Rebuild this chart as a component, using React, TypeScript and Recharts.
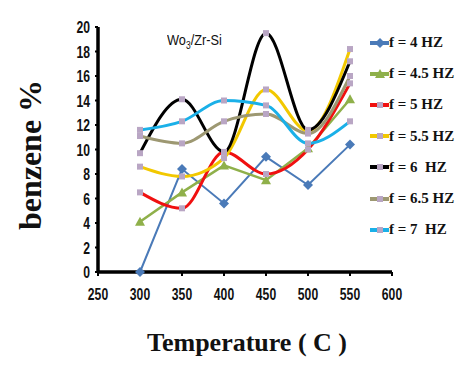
import React from "react";
import { LineChart, Line, XAxis, YAxis } from "recharts";

// temperature in C
const temperatures = [300, 350, 400, 450, 500, 550];

// benzene % per frequency
const f4 = [0, 8.4, 5.6, 9.4, 7.1, 10.4];
const f45 = [4.1, 6.5, 8.7, 7.5, 10.1, 14.1];
const f5 = [6.5, 5.2, 9.8, 8.0, 10.0, 15.4];
const f55 = [8.6, 7.8, 9.3, 14.9, 11.5, 18.2];
const f6 = [9.7, 14.1, 9.8, 19.5, 11.6, 17.2];
const f65 = [11.1, 10.5, 12.3, 12.9, 11.3, 16.0];
const f7 = [11.6, 12.3, 14.0, 13.6, 10.5, 12.3];

const xTicks = [250, 300, 350, 400, 450, 500, 550, 600];
const yTicks = [0, 2, 4, 6, 8, 10, 12, 14, 16, 18, 20];

const SERIES = [
  { key: "f4", name: "f = 4 HZ", values: f4, color: "#4a7ab8", width: 2, curve: "linear", marker: "diamond" },
  { key: "f45", name: "f = 4.5 HZ", values: f45, color: "#8fb04a", width: 2.5, curve: "linear", marker: "triangle" },
  { key: "f5", name: "f = 5 HZ", values: f5, color: "#f01010", width: 3, curve: "monotone", marker: "square" },
  { key: "f55", name: "f = 5.5 HZ", values: f55, color: "#f2c800", width: 3, curve: "monotone", marker: "square" },
  { key: "f6", name: "f = 6  HZ", values: f6, color: "#000000", width: 3, curve: "monotone", marker: "square" },
  { key: "f65", name: "f = 6.5 HZ", values: f65, color: "#9d9872", width: 3, curve: "monotone", marker: "square" },
  { key: "f7", name: "f = 7  HZ", values: f7, color: "#1ab0e8", width: 3, curve: "monotone", marker: "square" },
];

const data = temperatures.map((t, i) => {
  const row: Record<string, number> = { t };
  SERIES.forEach((s) => {
    row[s.key] = s.values[i];
  });
  return row;
});

const tickFont = "'Liberation Sans', Arial, sans-serif";
const serif = "'Liberation Serif', 'Times New Roman', serif";

function Marker({ cx, cy, shape, color }: any) {
  if (cx == null || cy == null) return null;
  if (shape === "diamond") {
    return (
      <path
        d={`M${cx},${cy - 5}L${cx + 5},${cy}L${cx},${cy + 5}L${cx - 5},${cy}Z`}
        fill={color}
      />
    );
  }
  if (shape === "triangle") {
    return (
      <path d={`M${cx},${cy - 5}L${cx + 5},${cy + 4}L${cx - 5},${cy + 4}Z`} fill={color} />
    );
  }
  return <rect x={cx - 3} y={cy - 3} width={6} height={6} fill="#b9a6c4" />;
}

// narrow bold tick labels, squeezed horizontally like the original
function XTick({ x, y, payload }: any) {
  return (
    <g transform={`translate(${x},${y}) scale(0.76,1)`}>
      <text
        x={0}
        y={0}
        dy={18}
        textAnchor="middle"
        fontFamily={tickFont}
        fontWeight={700}
        fontSize={16}
        fill="#111"
      >
        {payload.value}
      </text>
    </g>
  );
}

function YTick({ x, y, payload }: any) {
  return (
    <g transform={`translate(${x},${y}) scale(0.76,1)`}>
      <text
        x={0}
        y={0}
        dy={6}
        textAnchor="end"
        fontFamily={tickFont}
        fontWeight={700}
        fontSize={16}
        fill="#111"
      >
        {payload.value}
      </text>
    </g>
  );
}

function LegendList() {
  return (
    <div style={{ display: "flex", flexDirection: "column" }}>
      {SERIES.map((s) => (
        <div key={s.key} style={{ display: "flex", alignItems: "center", height: 31.2 }}>
          <svg width={19} height={12}>
            <line x1={0} y1={6} x2={19} y2={6} stroke={s.color} strokeWidth={4} />
            <Marker cx={10} cy={6} shape={s.marker} color={s.color} />
          </svg>
          <span
            style={{
              fontFamily: serif,
              fontWeight: 700,
              fontSize: 15,
              color: "#111",
              whiteSpace: "pre",
            }}
          >
            {s.name}
          </span>
        </div>
      ))}
    </div>
  );
}

export default function App() {
  return (
    <div
      style={{
        position: "absolute",
        left: 0,
        top: 0,
        width: 474,
        height: 367,
        background: "#fff",
        overflow: "hidden",
      }}
    >
      <LineChart
        width={474}
        height={367}
        data={data}
        margin={{ top: 27, right: 82, bottom: 65, left: 58 }}
      >
        <XAxis
          dataKey="t"
          type="number"
          domain={[250, 600]}
          ticks={xTicks}
          interval={0}
          height={30}
          axisLine={{ stroke: "#000", strokeWidth: 3.5 }}
          tickLine={{ stroke: "#000", strokeWidth: 2 }}
          tickSize={4}
          tickMargin={6}
          tick={<XTick />}
        />
        <YAxis
          type="number"
          domain={[0, 20]}
          ticks={yTicks}
          interval={0}
          width={40}
          axisLine={{ stroke: "#000", strokeWidth: 3.5 }}
          tickLine={{ stroke: "#000", strokeWidth: 2 }}
          tickSize={3}
          tickMargin={5}
          tick={<YTick />}
        />
        {SERIES.map((s) => (
          <Line
            key={s.key}
            dataKey={s.key}
            name={s.name}
            type={s.curve as any}
            stroke={s.color}
            strokeWidth={s.width}
            isAnimationActive={false}
            dot={(p: any) => (
              <Marker key={`${s.key}-${p.index}`} cx={p.cx} cy={p.cy} shape={s.marker} color={s.color} />
            )}
            activeDot={false}
          />
        ))}
      </LineChart>

      <div style={{ position: "absolute", left: 370, top: 27 }}>
        <LegendList />
      </div>

      <div
        style={{
          position: "absolute",
          left: 167,
          top: 31,
          fontFamily: tickFont,
          fontSize: 15,
          color: "#111",
          transform: "scaleX(0.85)",
          transformOrigin: "left center",
        }}
      >
        Wo<sub style={{ fontSize: 10 }}>3</sub>/Zr-Si
      </div>

      <div
        style={{
          position: "absolute",
          left: 30,
          top: 155,
          transform: "translate(-50%, -50%) rotate(-90deg)",
          fontFamily: serif,
          fontWeight: 700,
          fontSize: 32,
          color: "#111",
          whiteSpace: "nowrap",
        }}
      >
        benzene %
      </div>

      <div
        style={{
          position: "absolute",
          left: 247,
          top: 343,
          transform: "translate(-50%, -50%)",
          fontFamily: serif,
          fontWeight: 700,
          fontSize: 26,
          color: "#111",
          whiteSpace: "nowrap",
        }}
      >
        Temperature ( C )
      </div>
    </div>
  );
}
